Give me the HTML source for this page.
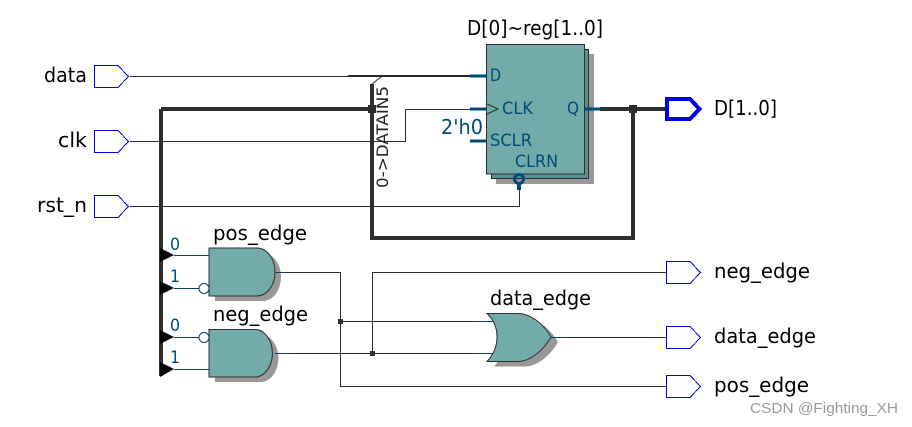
<!DOCTYPE html>
<html><head><meta charset="utf-8"><style>
html,body{margin:0;padding:0;background:#fff}
svg{display:block}
text{font-family:"DejaVu Sans","Liberation Sans",sans-serif}
</style></head><body>
<svg width="912" height="427" viewBox="0 0 912 427" xmlns="http://www.w3.org/2000/svg">
<rect width="912" height="427" fill="#fff"/>
<path d="M494 313.500H525C537 313.500 550 323 558 337C550 351 537 361.500 525 361.500H494C501 354 504 346 504 337C504 328 501 320 494 313.500Z" transform="translate(0,5)" fill="#999"/>
<g fill="#999" transform="translate(6,5)">
<path d="M209 248H257A18 24 0 0 1 257 296H209Z"/>
<path d="M209 329.500H257A18 24 0 0 1 257 377H209Z"/>
</g>
<g fill="none" stroke="#2a2a2a" stroke-width="1" shape-rendering="crispEdges">
<path d="M130 76.500H348M130 141.500H405.500V109.500H470M130 206.500H519.500V189"/>
<path d="M275 272.500H340.500V386.500H666M340 321.500H494M275 353.500H494M372.500 353.500V272.500H666M551 337.500H666"/>
</g>
<path d="M372 84L381.500 76.500" stroke="#2a2a2a" stroke-width="1" fill="none"/>
<path d="M348 76H470" stroke="#2a2a2a" stroke-width="2" fill="none"/>
<g fill="none" stroke="#2e2e2e" stroke-width="4" shape-rendering="crispEdges">
<path d="M161 109H372M161 109V376"/>
<path d="M372 84V238H633V109"/>
<path d="M600 109H665"/>
</g>
<g fill="#2e2e2e" shape-rendering="crispEdges"><rect x="368" y="105" width="8" height="8"/><rect x="629" y="105" width="8" height="8"/><rect x="338" y="319" width="5" height="5"/><rect x="370" y="351" width="5" height="5"/></g>
<g fill="#000"><path d="M160 248L174 255L160 262Z"/><path d="M160 281L174 288L160 295Z"/><path d="M160 330L174 337L160 344Z"/><path d="M160 362L174 369L160 377Z"/></g>
<g fill="none" stroke="#0f3f5c" stroke-width="1"><path d="M174 255.500H209M174 288.500H199M174 337.500H199M174 369.500H209"/><circle cx="204" cy="288.500" r="5" fill="#fff"/><circle cx="204" cy="337.500" r="5" fill="#fff"/><path d="M275 272.500H290M275 353.500H290M551 337.500H566M475 321.500H494M475 353.500H494"/></g>
<rect x="496" y="54" width="98" height="130" fill="#999"/>
<rect x="491.500" y="49.500" width="97" height="129" fill="#5b9090" stroke="#2e2e2e" stroke-width="1"/>
<rect x="486.500" y="44.500" width="98" height="129.500" fill="#73abab" stroke="#2e2e2e" stroke-width="1"/>
<g stroke="#004b78" stroke-width="3" fill="none"><path d="M470 76H486M470 109H486M470 141H486M585 109H600"/><circle cx="519" cy="179" r="4.500" stroke-width="3"/><path d="M519 184V190" stroke-width="4"/></g>
<path d="M487 104L498 109L487 114" fill="none" stroke="#2e2e2e" stroke-width="1"/>
<g fill="#73abab" stroke="#2e2e2e" stroke-width="1">
<path d="M209 248H257A18 24 0 0 1 257 296H209Z"/>
<path d="M209 329.500H257A18 24 0 0 1 257 377H209Z"/>
<path d="M487 313.500H518C530 313.500 543 323 551 337C543 351 530 361.500 518 361.500H487C494 354 497 346 497 337C497 328 494 320 487 313.500Z"/>
</g>
<g fill="#fff" stroke="#0000e6" stroke-width="1" shape-rendering="crispEdges">
<path d="M94.500 65.500H118L128.500 76.500L118 87.500H94.500Z"/>
<path d="M94.500 130.500H118L128.500 141.500L118 152.500H94.500Z"/>
<path d="M94.500 195.500H118L128.500 206.500L118 217.500H94.500Z"/>
<path d="M666.500 261.500H690L700.500 272.500L690 283.500H666.500Z"/>
<path d="M666.500 326.500H690L700.500 337.500L690 348.500H666.500Z"/>
<path d="M666.500 375.500H690L700.500 386.500L690 397.500H666.500Z"/>
<path d="M667 99H690L699.500 109L690 119H667Z" stroke-width="4"/>
</g>
<g fill="#000" font-size="20">
<text x="467" y="35" textLength="136" lengthAdjust="spacingAndGlyphs">D[0]~reg[1..0]</text>
<text x="44" y="82" textLength="43" lengthAdjust="spacingAndGlyphs">data</text>
<text x="58" y="147" textLength="29" lengthAdjust="spacingAndGlyphs">clk</text>
<text x="37" y="212" textLength="50" lengthAdjust="spacingAndGlyphs">rst_n</text>
<text x="714" y="115" textLength="63" lengthAdjust="spacingAndGlyphs">D[1..0]</text>
<text x="714" y="278" textLength="96" lengthAdjust="spacingAndGlyphs">neg_edge</text>
<text x="714" y="343" textLength="102" lengthAdjust="spacingAndGlyphs">data_edge</text>
<text x="714" y="392" textLength="95" lengthAdjust="spacingAndGlyphs">pos_edge</text>
<text x="213" y="240" textLength="94" lengthAdjust="spacingAndGlyphs">pos_edge</text>
<text x="213" y="321" textLength="95" lengthAdjust="spacingAndGlyphs">neg_edge</text>
<text x="490" y="305" textLength="101" lengthAdjust="spacingAndGlyphs">data_edge</text>
</g>
<g fill="#004b78" font-size="16.500">
<text x="170" y="250" textLength="10" lengthAdjust="spacingAndGlyphs">0</text><text x="170" y="282" textLength="10" lengthAdjust="spacingAndGlyphs">1</text><text x="170" y="331" textLength="10" lengthAdjust="spacingAndGlyphs">0</text><text x="170" y="363" textLength="10" lengthAdjust="spacingAndGlyphs">1</text>
<text x="490" y="81" textLength="11" lengthAdjust="spacingAndGlyphs">D</text>
<text x="502" y="114" textLength="31" lengthAdjust="spacingAndGlyphs">CLK</text>
<text x="567" y="114" textLength="12" lengthAdjust="spacingAndGlyphs">Q</text>
<text x="490" y="146" textLength="42" lengthAdjust="spacingAndGlyphs">SCLR</text>
<text x="515" y="167" textLength="43" lengthAdjust="spacingAndGlyphs">CLRN</text>
<text x="441" y="134" font-size="20" textLength="42" lengthAdjust="spacingAndGlyphs">2'h0</text>
</g>
<text transform="translate(388,188) rotate(-90)" font-size="16" fill="#26202e" textLength="102" lengthAdjust="spacingAndGlyphs">0-&gt;DATAIN5</text>
<text x="750" y="413" font-size="15" fill="#9a9a9a" style="font-family:'Liberation Sans',sans-serif" textLength="148" lengthAdjust="spacingAndGlyphs">CSDN @Fighting_XH</text>
</svg>
</body></html>
